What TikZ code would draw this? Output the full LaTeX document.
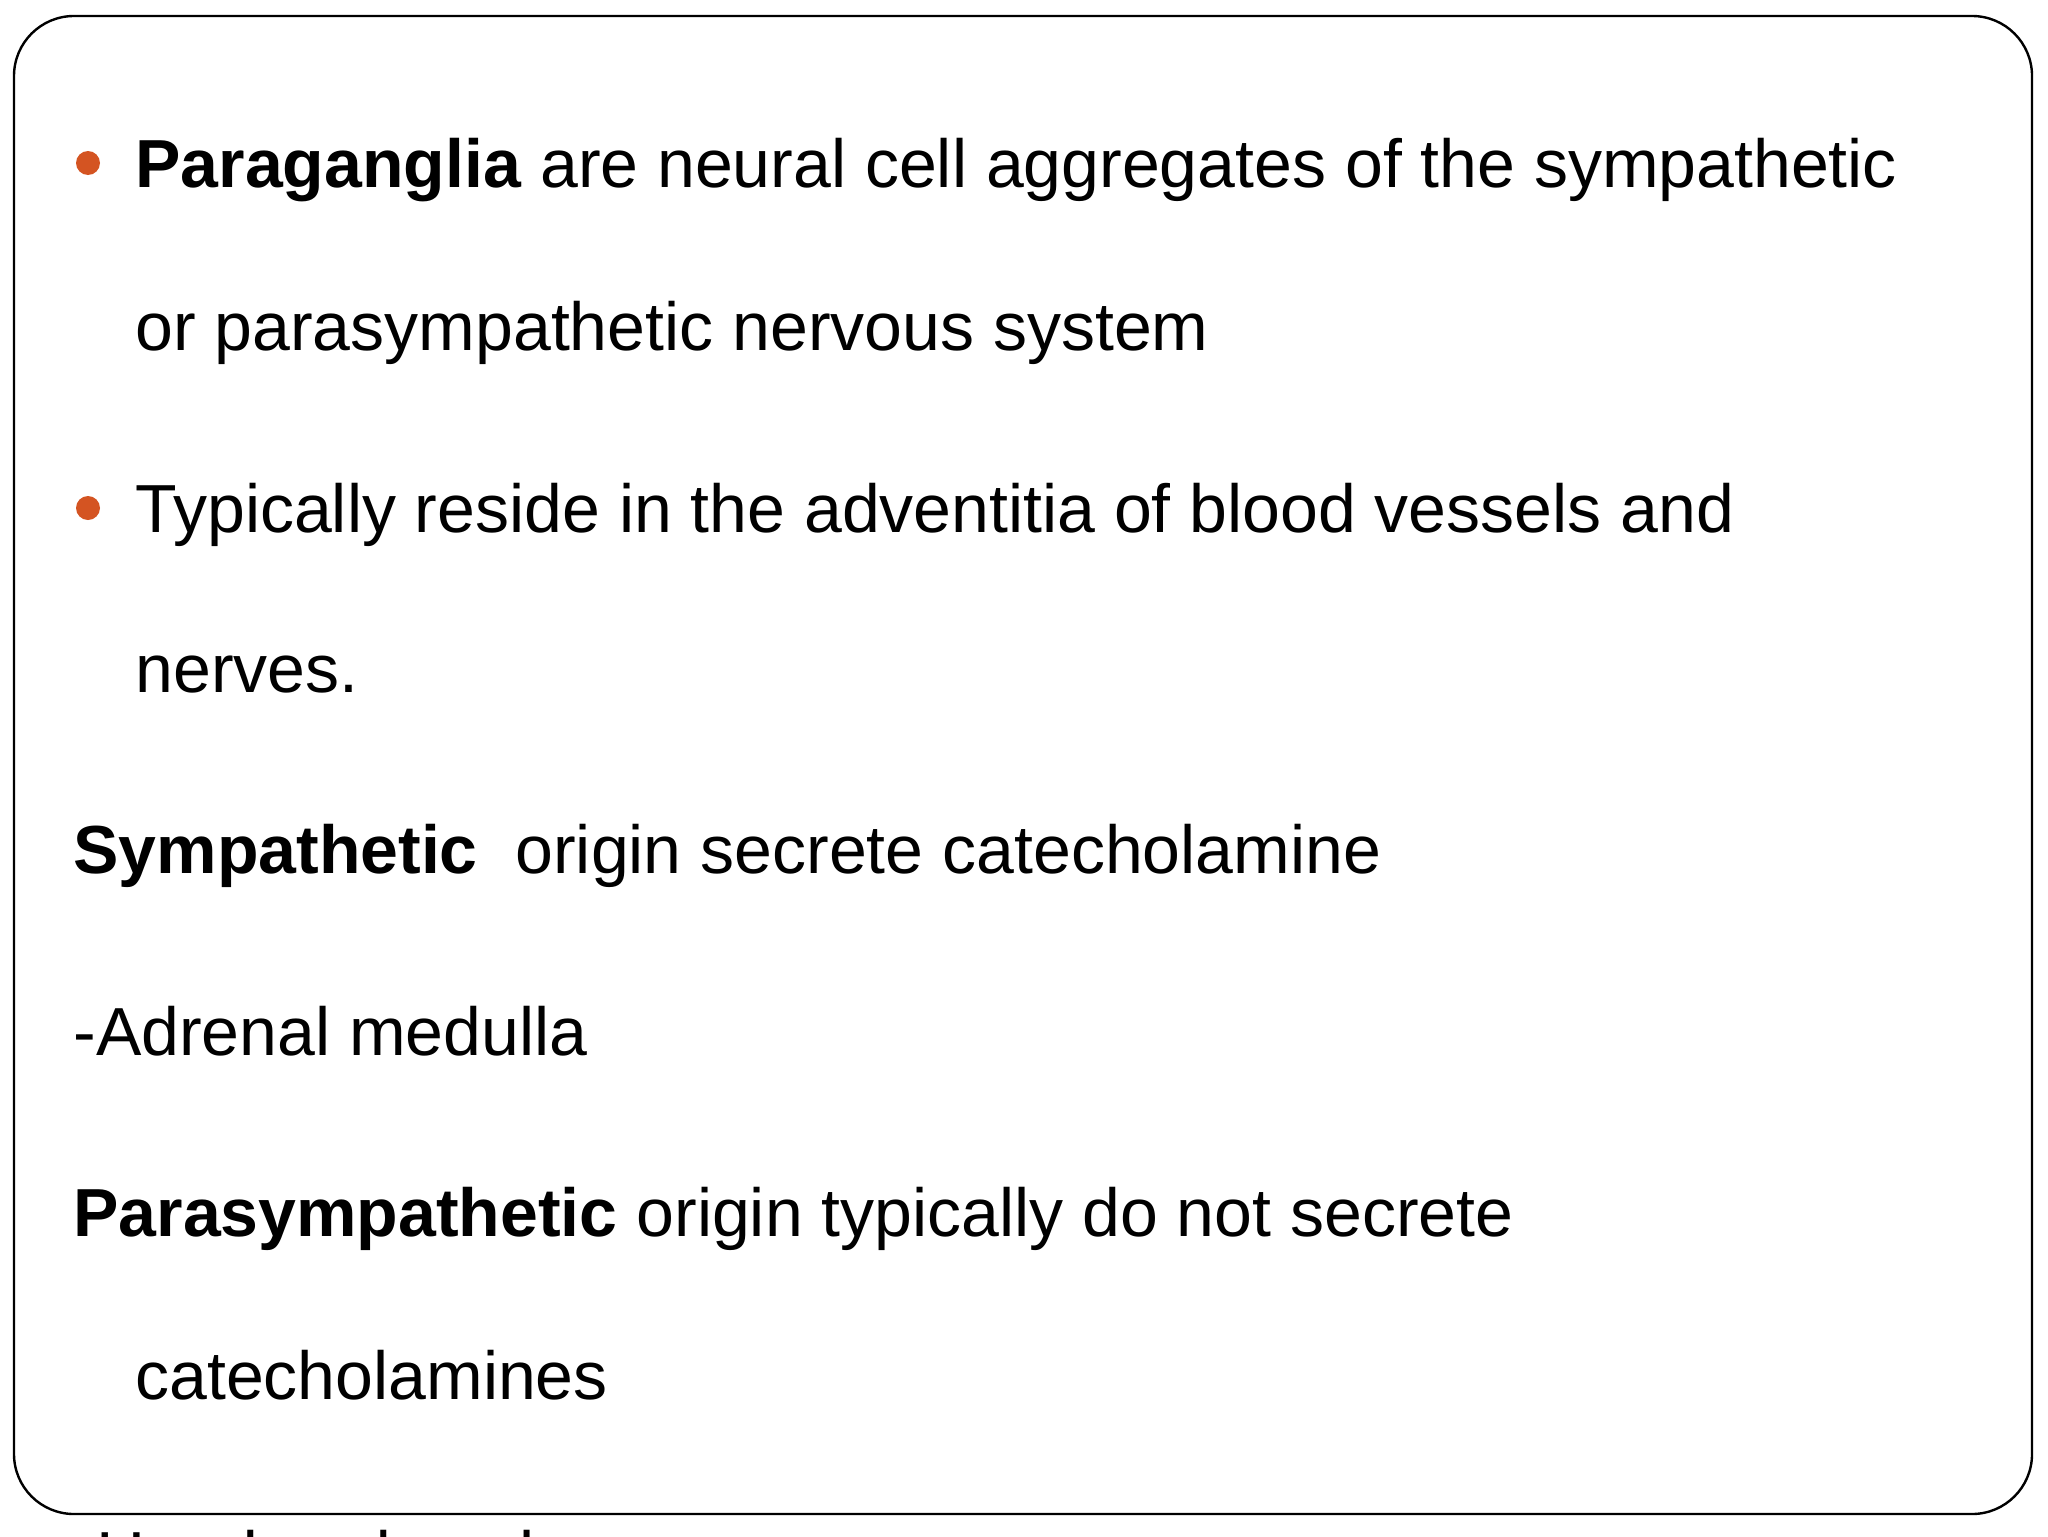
\documentclass[tikz,border=0pt]{standalone}
\usepackage{fontspec}
\setmainfont{Liberation Sans}
\definecolor{bul}{RGB}{212,84,34}
\begin{document}
\begin{tikzpicture}[x=0.5pt,y=-0.5pt,
 txt/.style={anchor=base west,inner sep=0pt,font=\fontsize{34}{40}\selectfont},
 dot/.style={circle,fill=bul,inner sep=0pt,minimum size=12pt}]
\useasboundingbox (0,0) rectangle (2048,1536);
\begin{scope}
\clip (0,0) rectangle (2048,1536);
\draw[line width=1.2pt,rounded corners=30pt] (14,16) rectangle (2032,1514);
\node[dot] (b1) at (88,163) {};
\node[dot] (b2) at (88,508) {};
\node[txt] (l1) at (135,187) {\textbf{Paraganglia} are neural cell aggregates of the sympathetic};
\node[txt] (l2) at (135,350) {or parasympathetic nervous system};
\node[txt] (l3) at (135,532) {Typically reside in the adventitia of blood vessels and};
\node[txt] (l4) at (135,692) {nerves.};
\node[txt] (l5) at (73,873) {\textbf{Sympathetic}\ \ origin secrete catecholamine};
\node[txt] (l6) at (73,1055) {-Adrenal medulla};
\node[txt] (l7) at (73,1236) {\textbf{Parasympathetic} origin typically do not secrete};
\node[txt] (l8) at (135,1399) {catecholamines};
\node[txt] (l9) at (73,1579) {-Head and neck};
\end{scope}
\end{tikzpicture}
\end{document}
